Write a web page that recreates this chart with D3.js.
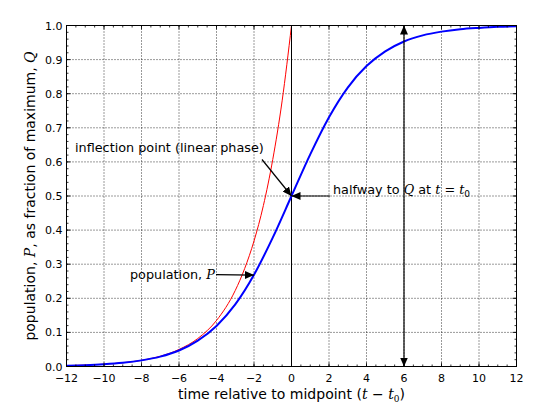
<!DOCTYPE html>
<html>
<head>
<meta charset="utf-8">
<script src="https://cdn.jsdelivr.net/npm/d3@7"></script>
<style>
  body { margin: 0; background: #fff; }
  svg { font-family: "DejaVu Sans", sans-serif; }
  .math { font-family: "DejaVu Serif", serif; font-style: italic; }
</style>
</head>
<body>
<svg id="chart" width="555" height="411"></svg>
<script>
// values
const tValues = [-12, -11, -10, -9, -8, -7, -6, -5, -4, -3, -2, -1, 0, 1, 2, 3, 4, 5, 6, 7, 8, 9, 10, 11, 12];
const population = [0.0025, 0.004, 0.0067, 0.011, 0.018, 0.029, 0.047, 0.076, 0.119, 0.182, 0.269, 0.378,
    0.5, 0.622, 0.731, 0.818, 0.881, 0.924, 0.953, 0.971, 0.982, 0.989, 0.993, 0.996, 0.9975];
const expT = [-12, -11, -10, -9, -8, -7, -6, -5, -4, -3, -2.5, -2, -1.5, -1, -0.5, 0];
const exponential = [0.0025, 0.004, 0.0067, 0.011, 0.018, 0.030, 0.050, 0.082, 0.135, 0.223, 0.287, 0.368,
    0.472, 0.607, 0.779, 1.0];
const xTicks = [-12, -10, -8, -6, -4, -2, 0, 2, 4, 6, 8, 10, 12];
const yTicks = [0, 0.1, 0.2, 0.3, 0.4, 0.5, 0.6, 0.7, 0.8, 0.9, 1.0];

const margin = { top: 25.5, right: 38.5, bottom: 44.5, left: 66.5 };
const width = 555 - margin.left - margin.right;
const height = 411 - margin.top - margin.bottom;

const svg = d3.select('#chart');

const defs = svg.append('defs');
defs.append('marker')
    .attr('id', 'head')
    .attr('viewBox', '0 0 10 10')
    .attr('refX', 10)
    .attr('refY', 5)
    .attr('markerWidth', 9)
    .attr('markerHeight', 8)
    .attr('markerUnits', 'userSpaceOnUse')
    .attr('orient', 'auto-start-reverse')
    .attr('preserveAspectRatio', 'none')
    .append('path')
    .attr('d', 'M0,0 L10,5 L0,10 Z')
    .attr('fill', '#000');

const g = svg.append('g')
    .attr('transform', `translate(${margin.left},${margin.top})`);

const x = d3.scaleLinear().domain([-12, 12]).range([0, width]);
const y = d3.scaleLinear().domain([0, 1]).range([height, 0]);

// grid
g.append('g')
    .selectAll('line')
    .data(xTicks.slice(1, -1))
    .enter().append('line')
    .attr('x1', d => x(d)).attr('x2', d => x(d))
    .attr('y1', 0).attr('y2', height)
    .attr('stroke', '#000')
    .attr('stroke-width', 0.8)
    .attr('stroke-dasharray', '1,2');

g.append('g')
    .selectAll('line')
    .data(yTicks.slice(1, -1))
    .enter().append('line')
    .attr('x1', 0).attr('x2', width)
    .attr('y1', d => y(d)).attr('y2', d => y(d))
    .attr('stroke', '#000')
    .attr('stroke-width', 0.8)
    .attr('stroke-dasharray', '1,2');

// curves
const line = d3.line()
    .x(d => x(d[0]))
    .y(d => y(d[1]))
    .curve(d3.curveMonotoneX);

g.append('path')
    .datum(expT.map((t, i) => [t, exponential[i]]))
    .attr('fill', 'none')
    .attr('stroke', '#ff0000')
    .attr('stroke-width', 1)
    .attr('d', line);

// vertical line at t = 0
g.append('line')
    .attr('x1', x(0)).attr('x2', x(0))
    .attr('y1', y(0)).attr('y2', y(1))
    .attr('stroke', '#000')
    .attr('stroke-width', 1);

g.append('path')
    .datum(tValues.map((t, i) => [t, population[i]]))
    .attr('fill', 'none')
    .attr('stroke', '#0000ff')
    .attr('stroke-width', 2)
    .attr('d', line);

// axes with inward ticks on all four sides
function ticksX(flip) {
    const k = flip ? 1 : -1;
    const minor = d3.range(-12, 12.01, 0.5);
    const ag = g.append('g').attr('transform', `translate(0,${flip ? 0 : height})`);
    ag.selectAll('.minor').data(minor).enter().append('line')
        .attr('x1', d => x(d)).attr('x2', d => x(d))
        .attr('y1', 0).attr('y2', k * 2)
        .attr('stroke', '#000').attr('stroke-width', 0.8);
    ag.selectAll('.major').data(xTicks).enter().append('line')
        .attr('x1', d => x(d)).attr('x2', d => x(d))
        .attr('y1', 0).attr('y2', k * 4)
        .attr('stroke', '#000').attr('stroke-width', 0.8);
}
function ticksY(flip) {
    const k = flip ? -1 : 1;
    const minor = d3.range(0, 1.001, 0.02);
    const ag = g.append('g').attr('transform', `translate(${flip ? width : 0},0)`);
    ag.selectAll('.minor').data(minor).enter().append('line')
        .attr('y1', d => y(d)).attr('y2', d => y(d))
        .attr('x1', 0).attr('x2', k * 2)
        .attr('stroke', '#000').attr('stroke-width', 0.8);
    ag.selectAll('.major').data(yTicks).enter().append('line')
        .attr('y1', d => y(d)).attr('y2', d => y(d))
        .attr('x1', 0).attr('x2', k * 4)
        .attr('stroke', '#000').attr('stroke-width', 0.8);
}
ticksX(false);
ticksX(true);
ticksY(false);
ticksY(true);

g.append('rect')
    .attr('width', width).attr('height', height)
    .attr('fill', 'none')
    .attr('stroke', '#000')
    .attr('stroke-width', 1);

// tick labels
g.append('g').selectAll('text').data(xTicks).enter().append('text')
    .attr('x', d => x(d))
    .attr('y', height + 15)
    .attr('text-anchor', 'middle')
    .style('font-size', '11px')
    .text(d => d < 0 ? '\u2212' + Math.abs(d) : d);

g.append('g').selectAll('text').data(yTicks).enter().append('text')
    .attr('x', -4)
    .attr('y', d => y(d) + 4)
    .attr('text-anchor', 'end')
    .style('font-size', '11px')
    .text(d => d.toFixed(1));

// axis labels
const xl = g.append('text')
    .attr('x', width / 2)
    .attr('y', height + 32)
    .attr('text-anchor', 'middle')
    .style('font-size', '14px');
xl.append('tspan').text('time relative to midpoint (');
xl.append('tspan').attr('class', 'math').text('t');
xl.append('tspan').text(' \u2212 ');
xl.append('tspan').attr('class', 'math').text('t');
xl.append('tspan').attr('class', 'math').attr('dy', 3).style('font-size', '9px').style('font-style', 'normal').text('0');
xl.append('tspan').attr('dy', -3).text(')');

const yl = g.append('text')
    .attr('transform', `translate(${-32},${height / 2}) rotate(-90)`)
    .attr('text-anchor', 'middle')
    .style('font-size', '14px');
yl.append('tspan').text('population, ');
yl.append('tspan').attr('class', 'math').text('P');
yl.append('tspan').text(', as fraction of maximum, ');
yl.append('tspan').attr('class', 'math').text('Q');

// double arrow at t = 6
g.append('line')
    .attr('x1', x(6)).attr('x2', x(6))
    .attr('y1', y(0)).attr('y2', y(1))
    .attr('stroke', '#000')
    .attr('stroke-width', 1.2)
    .attr('marker-start', 'url(#head)')
    .attr('marker-end', 'url(#head)');

// annotations
function arrow(x1, y1, x2, y2) {
    g.append('line')
        .attr('x1', x1).attr('y1', y1)
        .attr('x2', x2).attr('y2', y2)
        .attr('stroke', '#000')
        .attr('stroke-width', 1.2)
        .attr('marker-end', 'url(#head)');
}

g.append('text')
    .attr('x', 75 - margin.left)
    .attr('y', 152 - margin.top)
    .style('font-size', '12.8px')
    .text('inflection point (linear phase)');
arrow(262 - margin.left, 159.5 - margin.top, x(0), y(0.5));

const hw = g.append('text')
    .attr('x', 333 - margin.left)
    .attr('y', 193.5 - margin.top)
    .style('font-size', '12.8px');
hw.append('tspan').text('halfway to ');
hw.append('tspan').attr('class', 'math').text('Q');
hw.append('tspan').text(' at ');
hw.append('tspan').attr('class', 'math').text('t');
hw.append('tspan').text(' = ');
hw.append('tspan').attr('class', 'math').text('t');
hw.append('tspan').attr('dy', 3).style('font-size', '9px').text('0');
arrow(330 - margin.left, y(0.5), x(0), y(0.5));

const pl = g.append('text')
    .attr('x', 130 - margin.left)
    .attr('y', 279 - margin.top)
    .style('font-size', '12.8px');
pl.append('tspan').text('population, ');
pl.append('tspan').attr('class', 'math').text('P');
arrow(216 - margin.left, 274.7 - margin.top, x(-2), y(0.269) + 0.3);
</script>
</body>
</html>
